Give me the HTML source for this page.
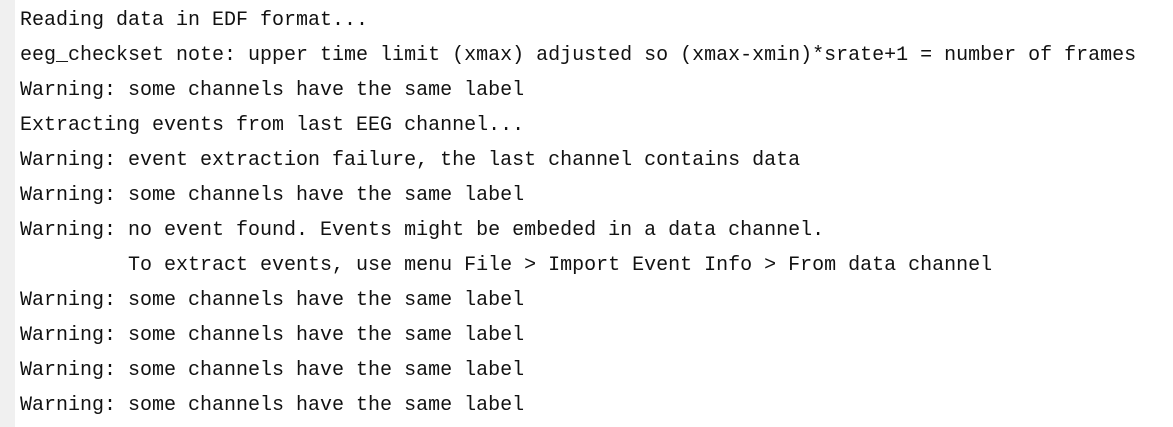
<!DOCTYPE html>
<html><head><style>
body{margin:0;width:1173px;height:427px;background:#fff;overflow:hidden;position:relative}
.strip{position:absolute;left:0;top:0;width:15px;height:427px;background:#f0f0f0}
pre{position:absolute;left:20px;top:3px;margin:0;font-family:"Liberation Mono","Noto Sans CJK SC",monospace;font-size:20px;line-height:35px;color:#111}
</style></head><body><div class="strip"></div><pre>Reading data in EDF format...
eeg_checkset note: upper time limit (xmax) adjusted so (xmax-xmin)*srate+1 = number of frames
Warning: some channels have the same label
Extracting events from last EEG channel...
Warning: event extraction failure, the last channel contains data
Warning: some channels have the same label
Warning: no event found. Events might be embeded in a data channel.
         To extract events, use menu File &gt; Import Event Info &gt; From data channel
Warning: some channels have the same label
Warning: some channels have the same label
Warning: some channels have the same label
Warning: some channels have the same label</pre></body></html>
